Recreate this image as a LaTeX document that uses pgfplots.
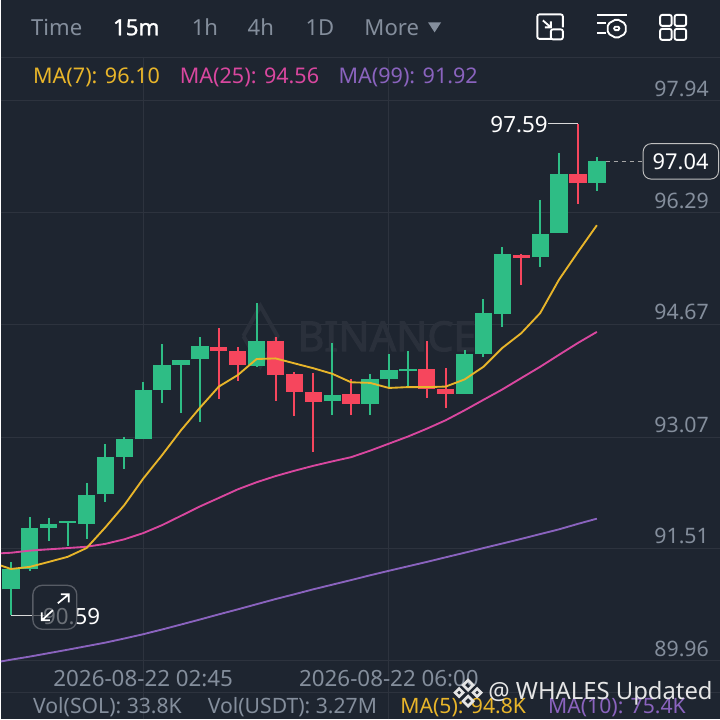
\documentclass[border=0pt]{standalone}
\usepackage{fontspec}
\setmainfont{Noto Sans}
\newfontfamily\boldnoto[FakeBold=1.2]{Noto Sans}
\newfontfamily\wmnoto[FakeBold=2.5]{Noto Sans}
\usepackage{pgfplots}
\pgfplotsset{compat=1.18}
\definecolor{bg}{HTML}{1E2530}
\definecolor{gridc}{HTML}{2D333E}
\definecolor{upc}{HTML}{2EBD85}
\definecolor{dnc}{HTML}{F6465D}
\definecolor{goldc}{HTML}{E8B52A}
\definecolor{pinkc}{HTML}{D9479F}
\definecolor{purpc}{HTML}{8A63BE}
\definecolor{grayt}{HTML}{848E9C}
\definecolor{wm}{HTML}{2A303B}
\newcommand{\fs}[1]{\fontsize{#1}{#1}\selectfont}
% index, open, high, low, close
\newcommand{\up}[5]{%
 \addplot[upc,line width=1.5pt,forget plot] coordinates {(#1,#3)(#1,#4)};
 \addplot[upc,line width=13pt,forget plot] coordinates {(#1,#2)(#1,#5)};}
\newcommand{\dn}[5]{%
 \addplot[dnc,line width=1.5pt,forget plot] coordinates {(#1,#3)(#1,#4)};
 \addplot[dnc,line width=13pt,forget plot] coordinates {(#1,#2)(#1,#5)};}
\begin{document}
\begin{tikzpicture}
\begin{axis}[
 at={(0,0)},anchor=south west,
 scale only axis,width=540pt,height=540pt,
 y coord trafo/.code={\pgfmathparse{ln(#1)*100}},
 xmin=-0.528,xmax=37.49,ymin=89.17,ymax=99.433,
 axis background/.style={fill=bg},
 axis line style={draw=none},
 major tick length=0pt,
 grid=major,
 major grid style={color=gridc,line width=0.7pt},
 xtick={7,20},
 xticklabels={2026-08-22 02:45,2026-08-22 06:00},
 xticklabel style={text=grayt,font=\fs{16.8},anchor=center,yshift=30.5pt},
 ytick={89.96,91.51,93.07,94.67,96.29,97.94},
 yticklabels={89.96,91.51,93.07,94.67,96.29,97.94},
 yticklabel pos=right,
 yticklabel style={text=grayt,font=\fs{16},anchor=east,xshift=-4.5pt,yshift=9pt},
 clip=false,
]
% watermark
\node[text=wm,font=\wmnoto\fs{31},anchor=west,inner sep=0] at (axis cs:15.15,94.5) {BINANCE};
\addplot[wm,line width=3pt,forget plot] coordinates {(12.3,94.50)(13.2,94.93)(14.1,94.50)(13.2,94.07)(12.3,94.50)};
% candles
\up{0}{90.94}{91.32}{90.59}{91.22}
\up{1}{91.22}{91.94}{91.19}{91.79}
\up{2}{91.79}{91.93}{91.61}{91.84}
\up{3}{91.86}{91.89}{91.54}{91.89}
\up{4}{91.84}{92.42}{91.64}{92.25}
\up{5}{92.26}{92.96}{92.15}{92.78}
\up{6}{92.79}{93.07}{92.61}{93.03}
\up{7}{93.03}{93.84}{93.03}{93.73}
\up{8}{93.73}{94.38}{93.54}{94.08}
\up{9}{94.08}{94.16}{93.41}{94.16}
\up{10}{94.17}{94.48}{93.28}{94.36}
\dn{11}{94.34}{94.61}{93.60}{94.28}
\dn{12}{94.28}{94.34}{93.86}{94.08}
\up{13}{94.07}{94.97}{94.06}{94.43}
\dn{14}{94.43}{94.48}{93.57}{93.94}
\dn{15}{93.96}{93.98}{93.36}{93.71}
\dn{16}{93.70}{93.97}{92.85}{93.56}
\up{17}{93.57}{94.41}{93.38}{93.66}
\dn{18}{93.67}{93.88}{93.38}{93.53}
\up{19}{93.53}{93.96}{93.38}{93.88}
\up{20}{93.88}{94.24}{93.76}{94.01}
\up{21}{94.00}{94.28}{93.77}{94.03}
\dn{22}{94.03}{94.43}{93.61}{93.74}
\dn{23}{93.74}{94.04}{93.48}{93.67}
\up{24}{93.68}{94.30}{93.68}{94.24}
\up{25}{94.24}{95.03}{94.20}{94.83}
\up{26}{94.82}{95.78}{94.63}{95.68}
\dn{27}{95.67}{95.68}{95.23}{95.62}
\up{28}{95.64}{96.47}{95.49}{95.97}
\up{29}{95.99}{97.16}{95.99}{96.85}
\dn{30}{96.85}{97.59}{96.41}{96.72}
\up{31}{96.72}{97.10}{96.60}{97.04}
% moving averages
\addplot[purpc,line width=1.4pt,line join=round] coordinates {(-0.528,89.95)(0,89.975)(1,90.02)(2,90.065)(3,90.112)(4,90.16)(5,90.21)(6,90.265)(7,90.325)(8,90.39)(9,90.457)(10,90.525)(11,90.595)(12,90.665)(13,90.735)(14,90.805)(15,90.873)(16,90.94)(17,91.005)(18,91.07)(19,91.133)(20,91.196)(21,91.258)(22,91.32)(23,91.383)(24,91.446)(25,91.51)(26,91.574)(27,91.64)(28,91.706)(29,91.773)(30,91.846)(31,91.92)};
\addplot[pinkc,line width=1.4pt,line join=round] coordinates {(-0.528,91.44)(0,91.445)(1,91.475)(2,91.495)(3,91.51)(4,91.53)(5,91.57)(6,91.635)(7,91.72)(8,91.83)(9,91.96)(10,92.09)(11,92.21)(12,92.33)(13,92.43)(14,92.515)(15,92.59)(16,92.66)(17,92.72)(18,92.78)(19,92.87)(20,92.97)(21,93.07)(22,93.18)(23,93.30)(24,93.44)(25,93.59)(26,93.74)(27,93.90)(28,94.06)(29,94.23)(30,94.40)(31,94.56)};
\addplot[goldc,line width=1.4pt,line join=round] coordinates {(-0.528,91.27)(0,91.22)(1,91.25)(2,91.32)(3,91.39)(4,91.51)(5,91.80)(6,92.11)(7,92.48)(8,92.81)(9,93.16)(10,93.48)(11,93.78)(12,93.94)(13,94.17)(14,94.18)(15,94.11)(16,94.04)(17,93.96)(18,93.84)(19,93.83)(20,93.76)(21,93.77)(22,93.77)(23,93.78)(24,93.88)(25,94.06)(26,94.33)(27,94.54)(28,94.83)(29,95.31)(30,95.71)(31,96.10)};
\end{axis}
% overlays in reference pixels
\begin{scope}[shift={(0,540pt)},x=0.75pt,y=-0.75pt]
 % header and footer rules
 \fill[bg] (0,0) rectangle (720,57);
 \draw[gridc,line width=0.7pt] (0,57)--(720,57) (0,693)--(720,693);
 \foreach \t/\x in {Time/30,1h/191,4h/247,1D/305,More/364}
   \node[text=grayt,font=\fs{16.6},anchor=west,inner sep=0] at (\x,27) {\t};
 \node[text=white,font=\boldnoto\fs{16.8},anchor=west,inner sep=0] at (112,27) {15m};
 \fill[grayt] (428,22)--(441,22)--(434.5,32)--cycle;
 % icons
 \begin{scope}[white,line width=1.4pt,rounded corners=1.5pt]
  \draw (552,38.5)--(537.5,38.5)--(537.5,14)--(563,14)--(563,27);
  \draw (551,29)rectangle(563,39);
  \draw[rounded corners=0] (543,20)--(551,27) (551,21)--(551,27)--(545,27);
  \draw (597,14.5)--(627,14.5);
  \draw (597,23)--(606,23) (597,33)--(606,33);
  \draw (617,18.5)--(626,23.5)--(626,33)--(617,38)--(608,33)--(608,23.5)--cycle;
  \draw (617,25)--(620.5,28)--(617,31)--(613.5,28)--cycle;
  \draw (660.5,14.5) rectangle (672,25.5) (675,14.5) rectangle (686.5,25.5)
        (660.5,28.5) rectangle (672,39.5) (675,28.5) rectangle (686.5,39.5);
 \end{scope}
 % MA legend
 \node[text=goldc,font=\fs{16.2},anchor=west,inner sep=0] at (32,77) {MA(7): 96.10};
 \node[text=pinkc,font=\fs{16.2},anchor=west,inner sep=0] at (179,77) {MA(25): 94.56};
 \node[text=purpc,font=\fs{16.2},anchor=west,inner sep=0] at (338,77) {MA(99): 91.92};
 % extremes and last price
 \draw[white!85!black,line width=0.7pt] (548,123)--(578,123);
 \node[text=white,font=\fs{16.8},anchor=east,inner sep=0] at (548,124) {97.59};
 \draw[white!85!black,line width=0.7pt] (10,616)--(45,616);
 \node[text=white,font=\fs{16.8},anchor=west,inner sep=0] at (42,617) {90.59};
 \draw[white!65!black,line width=0.7pt,dash pattern=on 3.5pt off 2.5pt] (606,161)--(643,161);
 \draw[white!75!black,fill=bg,line width=0.7pt,rounded corners=6pt] (643.5,143.5) rectangle (719,179);
 \node[text=white,font=\fs{16.4},anchor=center,inner sep=0] at (681,161.5) {97.04};
 % expand button
 \draw[gridc!80!white,fill=bg,fill opacity=0.65,line width=1pt,rounded corners=7pt] (32,586) rectangle (76,630);
 \begin{scope}[white,line width=1.3pt]
  \draw (57,604)--(68,595) (60,595)--(68,595)--(68,603);
  \draw (52,611)--(41,621) (41,613)--(41,621)--(49,621);
 \end{scope}
 % volume row
 \node[text=grayt,font=\fs{15.9},anchor=west,inner sep=0] at (32,708) {Vol(SOL): 33.8K};
 \node[text=grayt,font=\fs{15.9},anchor=west,inner sep=0] at (207,708) {Vol(USDT): 3.27M};
 \node[text=goldc,font=\fs{15.9},anchor=west,inner sep=0] at (400,708) {MA(5): 94.8K};
 \node[text=purpc,font=\fs{15.9},anchor=west,inner sep=0] at (548,708) {MA(10): 75.4K};
 % site mark
 \begin{scope}[white!90!black,line width=2pt]
  \draw (468,681)--(473,686)--(468,691)--(463,686)--cycle;
  \draw (468,697)--(473,702)--(468,707)--(463,702)--cycle;
  \draw (459,689.5)--(463,693.5)--(459,697.5)--(455,693.5)--cycle;
  \draw (477,689.5)--(481,693.5)--(477,697.5)--(473,693.5)--cycle;
 \end{scope}
 \node[text=white!90!black,font=\fs{17.9},anchor=west,inner sep=0] at (488,694) {@ WHALES Updated};
\end{scope}
\end{tikzpicture}
\end{document}
